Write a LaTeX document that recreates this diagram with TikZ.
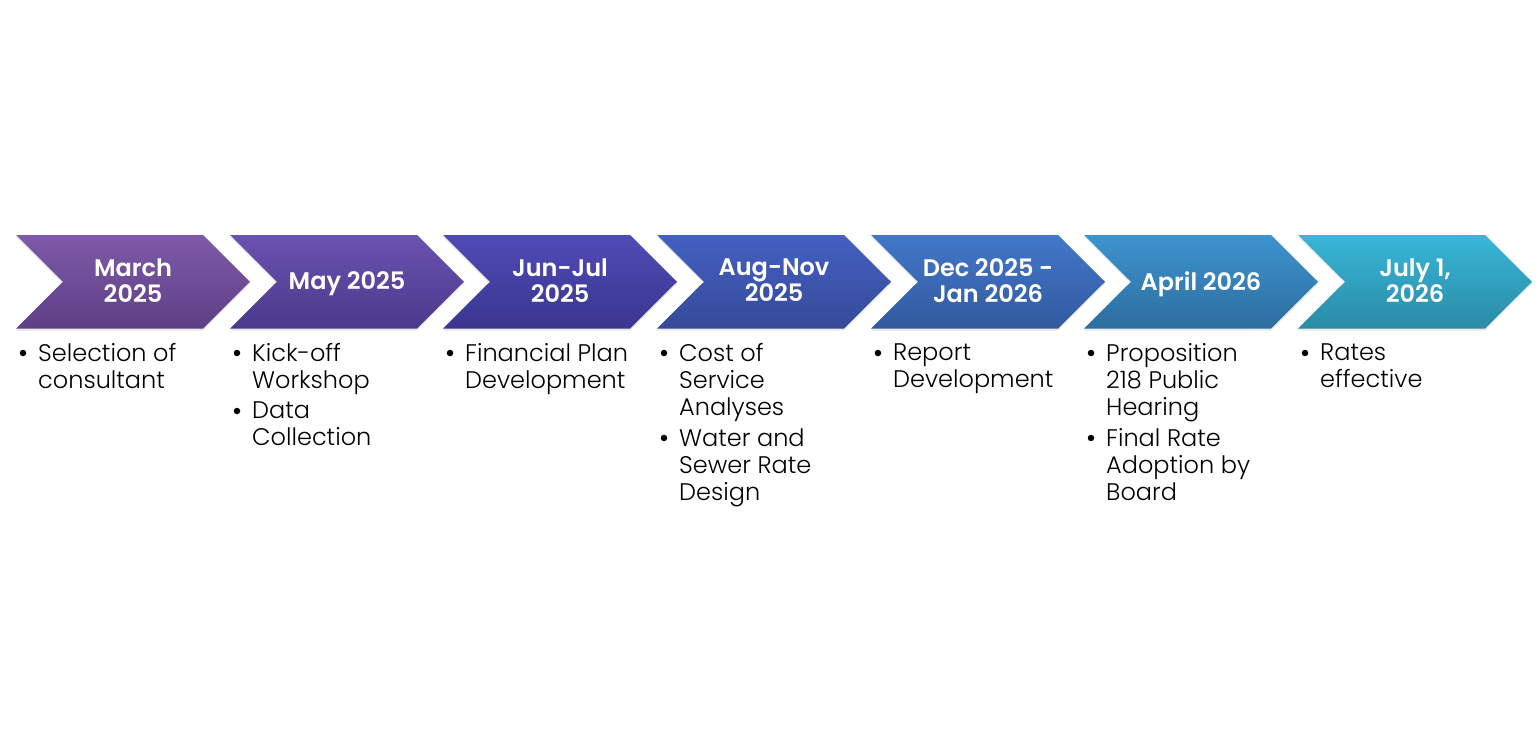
\documentclass[tikz,border=0pt]{standalone}
\usepackage{fontspec}
\setmainfont{Poppins}
\newfontfamily\itemfont{Poppins Light}
\newfontfamily\datefont{Poppins SemiBold}
\usetikzlibrary{shadows}
\usetikzlibrary{positioning}
\definecolor{marchtop}{HTML}{7E5AA8}
\definecolor{marchbot}{HTML}{5E3F85}
\definecolor{maytop}{HTML}{6A52B0}
\definecolor{maybot}{HTML}{4B3A8C}
\definecolor{juntop}{HTML}{4F4BB6}
\definecolor{junbot}{HTML}{3A368F}
\definecolor{augtop}{HTML}{4560C2}
\definecolor{augbot}{HTML}{354A98}
\definecolor{dectop}{HTML}{4277CA}
\definecolor{decbot}{HTML}{325A9E}
\definecolor{apriltop}{HTML}{3D93CF}
\definecolor{aprilbot}{HTML}{2D6EA0}
\definecolor{julytop}{HTML}{38B6D8}
\definecolor{julybot}{HTML}{2A8BA6}
\tikzset{
  chev/.style={drop shadow={opacity=.18,shadow xshift=0pt,shadow yshift=-2pt}},
  datebox/.style={text=white,font=\fontsize{24}{26}\selectfont\datefont,align=center,inner sep=0pt,
    execute at begin node=\strut,execute at end node=\strut},
  itembox/.style={anchor=north west,align=left,inner sep=0pt,font=\fontsize{24}{27}\selectfont\itemfont,
    execute at begin node=\strut},
  bul/.style={circle,fill=black,minimum size=6.5pt,inner sep=0pt}
}
\begin{document}
\begin{tikzpicture}[x=1pt,y=-1pt]
                \useasboundingbox (0,0) rectangle (1536,744);
                % chevrons
                \path[chev,top color=marchtop,bottom color=marchbot] (16,235) -- ++(187,0) -- ++(47,46.75) -- ++(-47,46.75) -- ++(-187,0) -- ++(47,-46.75) -- cycle;
                \path[chev,top color=maytop,bottom color=maybot] (230,235) -- ++(187,0) -- ++(47,46.75) -- ++(-47,46.75) -- ++(-187,0) -- ++(47,-46.75) -- cycle;
                \path[chev,top color=juntop,bottom color=junbot] (443,235) -- ++(187,0) -- ++(47,46.75) -- ++(-47,46.75) -- ++(-187,0) -- ++(47,-46.75) -- cycle;
                \path[chev,top color=augtop,bottom color=augbot] (657,235) -- ++(187,0) -- ++(47,46.75) -- ++(-47,46.75) -- ++(-187,0) -- ++(47,-46.75) -- cycle;
                \path[chev,top color=dectop,bottom color=decbot] (871,235) -- ++(187,0) -- ++(47,46.75) -- ++(-47,46.75) -- ++(-187,0) -- ++(47,-46.75) -- cycle;
                \path[chev,top color=apriltop,bottom color=aprilbot] (1084,235) -- ++(187,0) -- ++(47,46.75) -- ++(-47,46.75) -- ++(-187,0) -- ++(47,-46.75) -- cycle;
                \path[chev,top color=julytop,bottom color=julybot] (1298,235) -- ++(187,0) -- ++(47,46.75) -- ++(-47,46.75) -- ++(-187,0) -- ++(47,-46.75) -- cycle;
                % dates
                \node[datebox] (march) at (133,284.5) {March\\2025};
                \node[datebox] (may) at (347,284.5) {May 2025};
                \node[datebox] (jun) at (560,284.5) {Jun-Jul\\2025};
                \node[datebox] (aug) at (774,284.5) {Aug-Nov\\2025};
                \node[datebox] (dec) at (988,284.5) {Dec 2025 -\\Jan 2026};
                \node[datebox] (april) at (1201,284.5) {April 2026};
                \node[datebox] (july) at (1415,284.5) {July 1,\\2026};
                % items
                \node[itembox] (select) at (38,343.1) {Selection of\\consultant};
                \node[itembox] (kickoff) at (252,343.1) {Kick-off\\Workshop};
                \node[itembox] (data) at (252,401.1) {Data\\Collection};
                \node[itembox] (finplan) at (465,343.1) {Financial Plan\\Development};
                \node[itembox] (cos) at (679,343.1) {Cost of\\Service\\Analyses};
                \node[itembox] (design) at (679,428.1) {Water and\\Sewer Rate\\Design};
                \node[itembox] (report) at (893,343.1) {Report\\Development};
                \node[itembox] (hearing) at (1106,343.1) {Proposition\\218 Public\\Hearing};
                \node[itembox] (adopt) at (1106,428.1) {Final Rate\\Adoption by\\Board};
                \node[itembox] (rates) at (1320,343.1) {Rates\\effective};
                % bullets
                \node[bul] (b-select) at (23,353) {};
                \node[bul] (b-kickoff) at (237,353) {};
                \node[bul] (b-data) at (237,411) {};
                \node[bul] (b-finplan) at (450,353) {};
                \node[bul] (b-cos) at (664,353) {};
                \node[bul] (b-design) at (664,438) {};
                \node[bul] (b-report) at (878,353) {};
                \node[bul] (b-hearing) at (1091,353) {};
                \node[bul] (b-adopt) at (1091,438) {};
                \node[bul] (b-rates) at (1305,353) {};
\end{tikzpicture}
\end{document}
